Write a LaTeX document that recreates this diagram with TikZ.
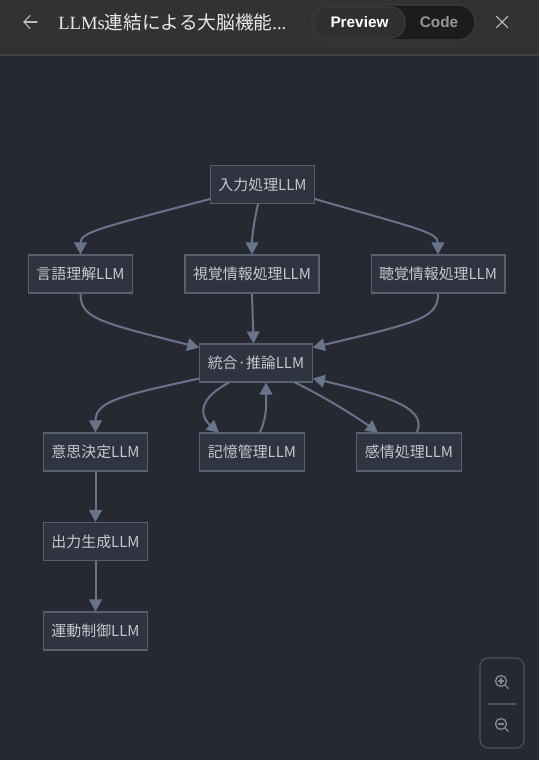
\documentclass[tikz,border=0pt]{standalone}
\usepackage{fontspec}
\setmainfont{Liberation Serif}
\newfontfamily\jpfont{Noto Sans CJK JP}
\newfontfamily\uifont{Liberation Sans}
\usetikzlibrary{arrows.meta,calc}

\definecolor{pagebg}{RGB}{38,41,50}
\definecolor{headbg}{RGB}{50,50,49}
\definecolor{headline}{RGB}{64,64,62}
\definecolor{nodefill}{RGB}{47,52,64}
\definecolor{nodeline}{RGB}{88,95,110}
\definecolor{nodetext}{RGB}{196,200,208}
\definecolor{edgecol}{RGB}{106,115,140}
\definecolor{titletext}{RGB}{232,232,230}
\definecolor{iconcol}{RGB}{190,190,188}
\definecolor{togglebg}{RGB}{28,28,27}
\definecolor{toggleline}{RGB}{62,62,60}
\definecolor{previewbg}{RGB}{47,47,46}
\definecolor{codetext}{RGB}{150,150,148}
\definecolor{ctrlline}{RGB}{78,84,98}
\definecolor{ctrlicon}{RGB}{130,136,150}

\begin{document}
\begin{tikzpicture}[x=0.75pt,y=-0.75pt]

% --- Global TikZ Styles ---
\tikzset{
    llmbox/.style={
        draw=nodeline,
        fill=nodefill,
        line width=0.8pt,
        text=nodetext,
        font=\jpfont\fontsize{11.2pt}{13pt}\selectfont,
        inner xsep=6pt,
        minimum height=28.5pt
    },
    arrow/.style={
        -{Triangle[length=9pt,width=9.5pt]},
        draw=edgecol,
        line width=1.5pt
    },
    icon/.style={
        draw=iconcol,
        line width=0.8pt,
        line cap=round,
        line join=round
    },
    ctrl/.style={
        draw=ctrlline,
        line width=0.8pt
    },
    ctrlsign/.style={
        draw=ctrlicon,
        line width=1pt,
        line cap=round
    }
}

\useasboundingbox (0,0) rectangle (539,760);

% ==================================================
% --- Background and header bar ---
% ==================================================

\fill[pagebg] (0,0) rectangle (539,760);
\fill[headbg] (0,0) rectangle (539,55);
\draw[headline, line width=0.8pt] (0,55) -- (539,55);

% Back arrow
\draw[icon] (24,22) -- (37,22);
\draw[icon] (30,15.5) -- (24,22) -- (30,28.5);

% Title
\node[anchor=west, text=titletext, inner sep=0pt,
      font=\fontsize{14pt}{16pt}\selectfont] (title) at (58,22)
    {LLMs{\jpfont 連結による大脳機能}...};

% Preview / Code toggle
\draw[fill=togglebg, draw=toggleline, line width=0.8pt, rounded corners=13pt]
    (312,5) rectangle (475,40);
\draw[fill=previewbg, draw=toggleline, line width=0.8pt, rounded corners=11pt]
    (314,7) rectangle (405,38);
\node[text=white, font=\uifont\bfseries\fontsize{11.5pt}{13pt}\selectfont]
    (preview) at (359.5,22.5) {Preview};
\node[text=codetext, font=\uifont\bfseries\fontsize{11.5pt}{13pt}\selectfont]
    (code) at (439,22.5) {Code};

% Close cross
\draw[icon] (496.5,16.5) -- (507.5,27.5);
\draw[icon] (507.5,16.5) -- (496.5,27.5);

% ==================================================
% --- LLM nodes ---
% ==================================================

\node[llmbox] (input)   at (262.5,184.5) {入力処理LLM};
\node[llmbox] (lang)    at (80.5,274)    {言語理解LLM};
\node[llmbox] (vision)  at (252,274)     {視覚情報処理LLM};
\node[llmbox] (hearing) at (438,274)     {聴覚情報処理LLM};
\node[llmbox] (integ)   at (256,363)     {統合·推論LLM};
\node[llmbox] (decide)  at (95.5,452)    {意思決定LLM};
\node[llmbox] (memory)  at (252,452)     {記憶管理LLM};
\node[llmbox] (emotion) at (409,452)     {感情処理LLM};
\node[llmbox] (output)  at (95.5,541.5)  {出力生成LLM};
\node[llmbox] (motor)   at (95.5,631)    {運動制御LLM};

% ==================================================
% --- Connectors ---
% ==================================================

% Input fan-out
\draw[arrow]
    ($(input.south west)+(0,-5)$)
    .. controls (100,228) and (80.5,232) ..
    (lang.north);
\draw[arrow]
    ($(input.south)+(-4.5,0)$)
    .. controls (254,222) and (252,236) ..
    (vision.north);
\draw[arrow]
    ($(input.south east)+(0,-5)$)
    .. controls (415,228) and (438,232) ..
    (hearing.north);

% Into integration
\draw[arrow]
    (lang.south)
    .. controls (80.5,318) and (98,322) ..
    ($(integ.north west)+(0,4)$);
\draw[arrow]
    (vision.south) -- ($(integ.north)+(-2.5,0)$);
\draw[arrow]
    (hearing.south)
    .. controls (438,318) and (420,322) ..
    ($(integ.north east)+(0,4)$);

% Out of integration
\draw[arrow]
    ($(integ.south west)+(0,-4)$)
    .. controls (118,396) and (95.5,402) ..
    (decide.north);
\draw[arrow]
    ($(integ.south)+(-27,0)$)
    .. controls (192,402) and (204,420) ..
    ($(memory.north)+(-33,0)$);
\draw[arrow]
    ($(memory.north)+(8,0)$)
    .. controls (268,414) and (266,400) ..
    ($(integ.south)+(10,0)$);
\draw[arrow]
    ($(integ.south)+(39,0)$)
    .. controls (325,397) and (358,418) ..
    ($(emotion.north)+(-31,0)$);
\draw[arrow]
    ($(emotion.north)+(8,0)$)
    .. controls (426,410) and (398,398) ..
    ($(integ.south east)+(0,-4)$);

% Output chain
\draw[arrow] (decide) -- (output);
\draw[arrow] (output) -- (motor);

% ==================================================
% --- Zoom controls ---
% ==================================================

\draw[ctrl, rounded corners=6pt] (480,658) rectangle (524,748);
\draw[ctrl] (488,704) -- (516,704);

% Zoom in
\draw[ctrlsign] (501,681) circle[radius=5.5];
\draw[ctrlsign] (505,685) -- (508.5,688.5);
\draw[ctrlsign] (498.5,681) -- (503.5,681);
\draw[ctrlsign] (501,678.5) -- (501,683.5);

% Zoom out
\draw[ctrlsign] (501,724) circle[radius=5.5];
\draw[ctrlsign] (505,728) -- (508.5,731.5);
\draw[ctrlsign] (498.5,724) -- (503.5,724);

\end{tikzpicture}
\end{document}
